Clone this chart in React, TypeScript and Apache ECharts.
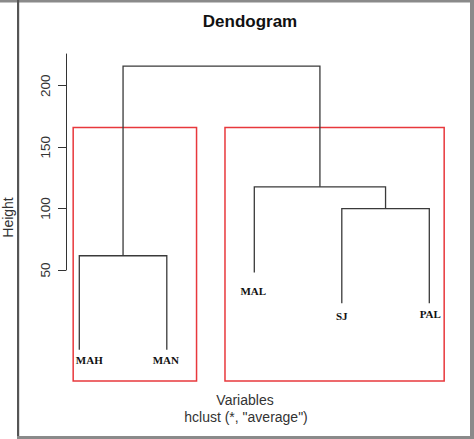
import React, { useEffect, useRef } from "react";
import * as echarts from "echarts";

// ---- data ----
const leafNames = ["MAH", "MAN", "MAL", "SJ", "PAL"];
const leafPositions = [1, 2, 3, 4, 5];
const leafEnds = [-15, -15, 48, 23, 23];
// R-style merge matrix: negative = leaf (1-based), positive = earlier merge (1-based)
const mergeLeftChild = [-1, -4, -3, 1];
const mergeRightChild = [-2, -5, 2, 3];
const mergeHeights = [61.6, 100, 117.7, 216];
// cluster rectangles (rect.hclust) in data units
const rectXStart = [0.93, 2.665];
const rectXEnd = [2.34, 5.17];
const rectTop = [166, 166];
const rectBottom = [-40.3, -40.3];
const yTicks = [50, 100, 150, 200];

// label placement style (pixel offsets of each leaf label from its leaf end)
const labelDx = [10, -1, -1, 0, 1];
const labelDy = [10, 10, 19, 12.5, 11];

function nodeX(id: number): number {
  if (id < 0) return leafPositions[-id - 1];
  const k = id - 1;
  return (nodeX(mergeLeftChild[k]) + nodeX(mergeRightChild[k])) / 2;
}
function nodeH(id: number): number {
  if (id < 0) return leafEnds[-id - 1];
  return mergeHeights[id - 1];
}

export default function App() {
  const ref = useRef<HTMLDivElement>(null);
  useEffect(() => {
    if (!ref.current) return;
    const chart = echarts.init(ref.current, undefined, { renderer: "svg" });
    const lineColor = "#3a3a3a";
    const option: any = {
      animation: false,
      backgroundColor: "#fff",
      grid: { left: 66, top: 54, bottom: 169, width: 380.8 },
      xAxis: {
        type: "value",
        min: 0.848,
        max: 5.2,
        show: false,
      },
      yAxis: {
        type: "value",
        min: 50,
        max: 225.8,
        interval: 50,
        axisLine: { show: true, lineStyle: { color: "#333", width: 1 } },
        axisTick: { show: true, length: 8, customValues: yTicks, lineStyle: { color: "#333" } },
        axisLabel: {
          customValues: yTicks,
          rotate: 90,
          margin: 14,
          fontSize: 13.5,
          color: "#333",
          fontFamily: "Liberation Sans",
        },
        splitLine: { show: false },
      },
      series: [
        {
          type: "custom",
          clip: false,
          data: rectXStart.map((_, i) => i),
          renderItem: (params: any, api: any) => {
            const i = params.dataIndex;
            const p0 = api.coord([rectXStart[i], rectTop[i]]);
            const p1 = api.coord([rectXEnd[i], rectBottom[i]]);
            return {
              type: "rect",
              shape: { x: p0[0], y: p0[1], width: p1[0] - p0[0], height: p1[1] - p0[1] },
              style: { fill: "none", stroke: "#e8383c", lineWidth: 1.5 },
            };
          },
        },
        {
          type: "custom",
          clip: false,
          data: mergeHeights.map((_, i) => i),
          renderItem: (params: any, api: any) => {
            const k = params.dataIndex;
            const l = mergeLeftChild[k];
            const r = mergeRightChild[k];
            const h = mergeHeights[k];
            const pts = [
              api.coord([nodeX(l), nodeH(l)]),
              api.coord([nodeX(l), h]),
              api.coord([nodeX(r), h]),
              api.coord([nodeX(r), nodeH(r)]),
            ];
            return {
              type: "polyline",
              shape: { points: pts },
              style: { stroke: lineColor, lineWidth: 1.3, fill: "none" },
            };
          },
        },
        {
          type: "custom",
          clip: false,
          data: leafNames.map((_, i) => i),
          renderItem: (params: any, api: any) => {
            const i = params.dataIndex;
            const p = api.coord([leafPositions[i], leafEnds[i]]);
            return {
              type: "text",
              x: p[0] + labelDx[i],
              y: p[1] + labelDy[i],
              style: {
                text: leafNames[i],
                fontFamily: "Liberation Serif",
                fontWeight: "bold",
                fontSize: 11,
                fill: "#111",
                align: "center",
                verticalAlign: "middle",
              },
            };
          },
        },
      ],
      graphic: [
        { type: "rect", shape: { x: 0, y: 0, width: 474, height: 2.5 }, style: { fill: "#8a8a8a" }, z: 10 },
        { type: "rect", shape: { x: 17, y: 0, width: 2.2, height: 439 }, style: { fill: "#555" }, z: 10 },
        { type: "rect", shape: { x: 470, y: 0, width: 4, height: 439 }, style: { fill: "#8a8a8a" }, z: 10 },
        { type: "rect", shape: { x: 17, y: 436, width: 457, height: 3 }, style: { fill: "#8a8a8a" }, z: 10 },
        {
          type: "text",
          x: 250,
          y: 21,
          style: {
            text: "Dendogram",
            fontFamily: "Liberation Sans",
            fontWeight: "bold",
            fontSize: 17,
            fill: "#111",
            align: "center",
            verticalAlign: "middle",
          },
        },
        {
          type: "text",
          x: 8,
          y: 217.5,
          rotation: Math.PI / 2,
          style: {
            text: "Height",
            fontFamily: "Liberation Sans",
            fontSize: 14,
            fill: "#333",
            align: "center",
            verticalAlign: "middle",
          },
        },
        {
          type: "text",
          x: 245,
          y: 400,
          style: {
            text: "Variables",
            fontFamily: "Liberation Sans",
            fontSize: 14,
            fill: "#333",
            align: "center",
            verticalAlign: "middle",
          },
        },
        {
          type: "text",
          x: 246,
          y: 416.5,
          style: {
            text: 'hclust (*, "average")',
            fontFamily: "Liberation Sans",
            fontSize: 14,
            fill: "#333",
            align: "center",
            verticalAlign: "middle",
          },
        },
      ],
    };
    chart.setOption(option);
    return () => chart.dispose();
  }, []);
  return (
    <div
      ref={ref}
      style={{ position: "absolute", left: 0, top: 0, width: 474, height: 439 }}
    />
  );
}
